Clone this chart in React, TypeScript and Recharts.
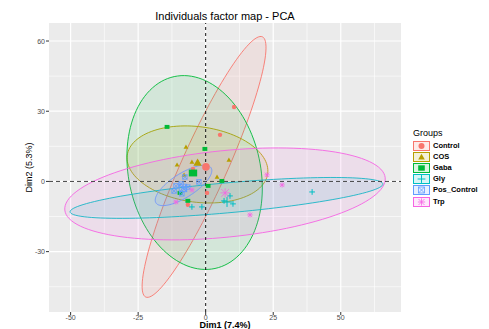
import React from "react";
import * as R from "recharts";

const { ScatterChart, Scatter, XAxis, YAxis, CartesianGrid, ReferenceLine } = R;
const anyR = R as any;

const W = 489;
const H = 329;
const FONT = "'Liberation Sans', Arial, Helvetica, sans-serif";

const groups = ["Control", "COS", "Gaba", "Gly", "Pos_Control", "Trp"];
const colors = ["#F8766D", "#B79F00", "#00BA38", "#00BFC4", "#619CFF", "#F564E3"];
const shapes = ["circle", "triangle", "square", "plus", "squareX", "asterisk"];

const xTicks = [-50, -25, 0, 25, 50];
const yTicks = [-30, 0, 30, 60];
const xMinor = [-37.5, -12.5, 12.5, 37.5, 62.5];
const yMinor = [-45, -15, 15, 45];
const X_DOMAIN: [number, number] = [-58, 72.3];
const Y_DOMAIN: [number, number] = [-55.8, 67.7];

// individuals per group (Dim1, Dim2)
const controlPts = [
  { x: 10.5, y: 31.8 },
  { x: 5.3, y: 19.9 },
  { x: -4.7, y: 5.3 },
  { x: 0.5, y: -4.9 },
  { x: -6.6, y: -10.0 },
];
const cosPts = [
  { x: -7.3, y: 14.7 },
  { x: -10.6, y: 7.1 },
  { x: -5.1, y: 8.3 },
  { x: -2.9, y: 8.3 },
  { x: 8.6, y: 9.2 },
  { x: 4.2, y: 1.9 },
  { x: -8.0, y: 2.8 },
];
const gabaPts = [
  { x: -14.3, y: 23.3 },
  { x: -0.3, y: 13.9 },
  { x: 6.0, y: 0.2 },
  { x: 0.9, y: -1.9 },
  { x: -9.5, y: -4.9 },
  { x: -6.6, y: -8.3 },
];
const glyPts = [
  { x: 39.4, y: -4.5 },
  { x: 10.1, y: -9.6 },
  { x: 9.0, y: -6.2 },
  { x: -5.1, y: -10.9 },
  { x: -1.4, y: -10.9 },
  { x: 6.8, y: -8.3 },
];
const posControlPts = [
  { x: -11.0, y: -1.9 },
  { x: -9.1, y: -1.1 },
  { x: -8.0, y: -3.2 },
  { x: -11.7, y: -4.1 },
  { x: -8.8, y: -5.3 },
  { x: -6.6, y: -2.4 },
  { x: -7.7, y: 1.9 },
  { x: -2.5, y: -0.2 },
];
const trpPts = [
  { x: 22.7, y: 2.8 },
  { x: 28.3, y: -1.5 },
  { x: 16.4, y: -14.3 },
  { x: -11.0, y: -8.8 },
  { x: -5.1, y: -3.6 },
];
const groupPoints = [controlPts, cosPts, gabaPts, glyPts, posControlPts, trpPts];

// group mean points (larger symbols)
const groupMeans = [
  { x: 0.1, y: 6.2 },
  { x: -3.0, y: 8.0 },
  { x: -4.7, y: 3.6 },
  { x: 7.9, y: -8.8 },
  { x: -8.4, y: -2.8 },
  { x: 7.2, y: -4.9 },
];

// concentration ellipses: centre and two conjugate semi-axes, in data units
const ellipseCenters = [
  [-0.6, 6.2],
  [-3.04, 7.26],
  [-4.1, 3.8],
  [7.7, -7.05],
  [-8.2, -1.7],
  [7.15, -5.34],
];
const ellipseAxisU = [
  [21.6, 55.6],
  [26.0, -3.9],
  [-7.55, 41.0],
  [57.9, 5.97],
  [10.2, 7.5],
  [59.3, 6.9],
];
const ellipseAxisV = [
  [7.7, -4.1],
  [-1.8, -16.0],
  [23.9, 5.9],
  [0.49, -6.38],
  [2.39, -4.3],
  [1.6, -18.4],
];

function usePlotBox() {
  if (anyR.usePlotArea) return anyR.usePlotArea();
  const off = anyR.useOffset ? anyR.useOffset() : null;
  if (!off) return null;
  return {
    x: off.left,
    y: off.top,
    width: W - off.left - off.right,
    height: H - off.top - off.bottom,
  };
}

function useScales() {
  const box = usePlotBox();
  if (!box) return null;
  const sx = (v: number) => box.x + ((v - X_DOMAIN[0]) / (X_DOMAIN[1] - X_DOMAIN[0])) * box.width;
  const sy = (v: number) => box.y + ((Y_DOMAIN[1] - v) / (Y_DOMAIN[1] - Y_DOMAIN[0])) * box.height;
  return { box, sx, sy };
}

function Marker({ kind, cx, cy, color, s }: any) {
  if (cx == null || cy == null) return null;
  switch (kind) {
    case "circle":
      return <circle cx={cx} cy={cy} r={s} fill={color} />;
    case "triangle":
      return (
        <polygon
          points={`${cx},${cy - s * 1.1} ${cx - s * 1.1},${cy + s * 0.8} ${cx + s * 1.1},${cy + s * 0.8}`}
          fill={color}
        />
      );
    case "square":
      return <rect x={cx - s * 1.1} y={cy - s * 0.9} width={s * 2.2} height={s * 1.8} fill={color} />;
    case "plus":
      return (
        <g stroke={color} strokeWidth={1}>
          <line x1={cx - s * 1.3} y1={cy} x2={cx + s * 1.3} y2={cy} />
          <line x1={cx} y1={cy - s * 1.3} x2={cx} y2={cy + s * 1.3} />
        </g>
      );
    case "squareX":
      return (
        <g stroke={color} strokeWidth={0.8} fill="none">
          <rect x={cx - s} y={cy - s} width={s * 2} height={s * 2} />
          <line x1={cx - s} y1={cy - s} x2={cx + s} y2={cy + s} />
          <line x1={cx - s} y1={cy + s} x2={cx + s} y2={cy - s} />
        </g>
      );
    case "asterisk":
      return (
        <g stroke={color} strokeWidth={0.8}>
          <line x1={cx - s * 1.2} y1={cy} x2={cx + s * 1.2} y2={cy} />
          <line x1={cx} y1={cy - s * 1.2} x2={cx} y2={cy + s * 1.2} />
          <line x1={cx - s} y1={cy - s} x2={cx + s} y2={cy + s} />
          <line x1={cx - s} y1={cy + s} x2={cx + s} y2={cy - s} />
        </g>
      );
    default:
      return null;
  }
}

// ggplot-style grid: thin minor lines, wider major lines
function GridLines() {
  const sc = useScales();
  if (!sc) return null;
  const { box, sx, sy } = sc;
  const x0 = box.x;
  const x1 = box.x + box.width;
  const y0 = box.y;
  const y1 = box.y + box.height;
  return (
    <g stroke="#FFFFFF">
      {xMinor.map((v) => (
        <line key={"xm" + v} x1={sx(v)} x2={sx(v)} y1={y0} y2={y1} strokeWidth={0.6} />
      ))}
      {yMinor.map((v) => (
        <line key={"ym" + v} y1={sy(v)} y2={sy(v)} x1={x0} x2={x1} strokeWidth={0.6} />
      ))}
      {xTicks.map((v) => (
        <line key={"x" + v} x1={sx(v)} x2={sx(v)} y1={y0} y2={y1} strokeWidth={1.2} />
      ))}
      {yTicks.map((v) => (
        <line key={"y" + v} y1={sy(v)} y2={sy(v)} x1={x0} x2={x1} strokeWidth={1.2} />
      ))}
    </g>
  );
}

function Ellipses() {
  const sc = useScales();
  if (!sc) return null;
  const { sx, sy } = sc;
  return (
    <g>
      {groups.map((g, i) => {
        const [cx, cy] = ellipseCenters[i];
        const [ux, uy] = ellipseAxisU[i];
        const [vx, vy] = ellipseAxisV[i];
        const pts: string[] = [];
        for (let k = 0; k <= 120; k++) {
          const t = (k / 120) * Math.PI * 2;
          const dx = cx + ux * Math.cos(t) + vx * Math.sin(t);
          const dy = cy + uy * Math.cos(t) + vy * Math.sin(t);
          pts.push(`${sx(dx).toFixed(2)},${sy(dy).toFixed(2)}`);
        }
        return (
          <path
            key={g}
            d={`M${pts.join("L")}Z`}
            fill={colors[i]}
            fillOpacity={0.1}
            stroke={colors[i]}
            strokeWidth={0.9}
          />
        );
      })}
    </g>
  );
}

function Titles() {
  const box = usePlotBox();
  if (!box) return null;
  const midX = box.x + box.width / 2;
  const midY = box.y + box.height / 2;
  return (
    <g fontFamily={FONT}>
      <text x={midX} y={box.y - 3} textAnchor="middle" fontSize={11} fill="#000">
        Individuals factor map - PCA
      </text>
      <text x={midX} y={box.y + box.height + 16} textAnchor="middle" fontSize={9} fontWeight={600} fill="#000">
        Dim1 (7.4%)
      </text>
      <text
        x={box.x - 17}
        y={midY}
        textAnchor="middle"
        fontSize={9}
        fill="#000"
        transform={`rotate(-90 ${box.x - 17} ${midY})`}
      >
        Dim2 (5.3%)
      </text>
    </g>
  );
}

function LegendKey({ i }: { i: number }) {
  return (
    <svg width={17} height={10} style={{ display: "block" }}>
      <rect x={0.5} y={0.5} width={16} height={9} fill={colors[i]} fillOpacity={0.15} stroke={colors[i]} strokeWidth={1} />
      <Marker kind={shapes[i]} cx={8.5} cy={5} color={colors[i]} s={3} />
    </svg>
  );
}

const tickStyle = { fontSize: 7, fill: "#4D4D4D", stroke: "none", fontFamily: FONT };

export default function App() {
  return (
    <div style={{ position: "absolute", left: 0, top: 0, width: W, height: H, background: "#fff", fontFamily: FONT }}>
      <ScatterChart width={W} height={H} margin={{ top: 23, right: 88, bottom: 0, left: 0 }}>
        <CartesianGrid fill="#EBEBEB" horizontal={false} vertical={false} />
        <XAxis
          type="number"
          dataKey="x"
          domain={X_DOMAIN}
          allowDataOverflow
          ticks={xTicks}
          height={17}
          tickSize={3}
          tickMargin={0}
          axisLine={false}
          tickLine={{ stroke: "#333" }}
          tick={tickStyle}
        />
        <YAxis
          type="number"
          dataKey="y"
          domain={Y_DOMAIN}
          allowDataOverflow
          ticks={yTicks}
          width={49}
          tickSize={3}
          tickMargin={1}
          axisLine={false}
          tickLine={{ stroke: "#333" }}
          tick={tickStyle}
        />
        <GridLines />
        <Ellipses />
        <ReferenceLine x={0} stroke="#111" strokeWidth={1} strokeDasharray="3 3" />
        <ReferenceLine y={0} stroke="#444" strokeWidth={1} strokeDasharray="4 3" />
        {groups.map((g, i) => (
          <Scatter
            key={g}
            name={g}
            data={groupPoints[i]}
            isAnimationActive={false}
            shape={(p: any) => <Marker kind={shapes[i]} cx={p.cx} cy={p.cy} color={colors[i]} s={2.2} />}
          />
        ))}
        {groups.map((g, i) => (
          <Scatter
            key={g + "-mean"}
            name={g + " mean"}
            data={[groupMeans[i]]}
            isAnimationActive={false}
            shape={(p: any) => <Marker kind={shapes[i]} cx={p.cx} cy={p.cy} color={colors[i]} s={3.8} />}
          />
        ))}
        <Titles />
      </ScatterChart>
      <div style={{ position: "absolute", left: 413, top: 128, fontFamily: FONT }}>
        <div style={{ fontSize: 9, lineHeight: "11px", marginBottom: 1 }}>Groups</div>
        {groups.map((g, i) => (
          <div key={g} style={{ display: "flex", alignItems: "center", height: 11.2 }}>
            <LegendKey i={i} />
            <span style={{ fontSize: 7.5, fontWeight: 600, marginLeft: 3, lineHeight: "10px" }}>{g}</span>
          </div>
        ))}
      </div>
    </div>
  );
}
